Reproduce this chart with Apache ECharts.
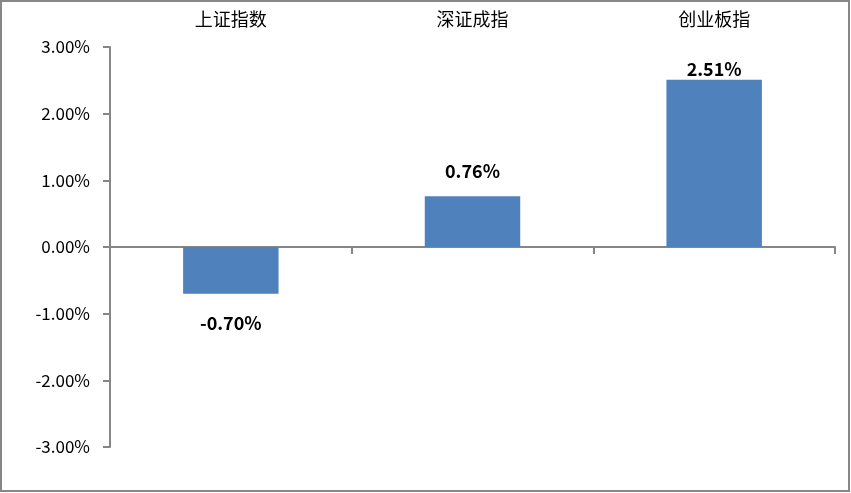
<!DOCTYPE html>
<html><head><meta charset="utf-8">
<script src="https://cdn.jsdelivr.net/npm/echarts@6/dist/echarts.min.js"></script>
<style>html,body{margin:0;padding:0;background:#fff}#c{width:851px;height:493px}</style>
</head><body><div id="c"></div>
<script>
const categories = ['上证指数', '深证成指', '创业板指'];
const values = [-0.70, 0.76, 2.51];
const yMin = -3, yMax = 3, yStep = 1;

const chart = echarts.init(document.getElementById('c'));
const font = '"Noto Sans CJK SC", "Noto Sans", sans-serif';
const labelDistances = [20, 16, 2];
chart.setOption({
  animation: false,
  graphic: [{type: 'rect', shape: {x: 1, y: 1, width: 848, height: 490}, style: {fill: 'none', stroke: '#878787', lineWidth: 2}, silent: true}],
  grid: {left: 110, right: 16, top: 47, bottom: 46},
  xAxis: [{
    type: 'category', data: categories, position: 'bottom',
    axisLine: {onZero: true, lineStyle: {color: '#868686', width: 2}},
    axisTick: {show: true, inside: false, length: 7, alignWithLabel: false, lineStyle: {color: '#868686', width: 2}},
    axisLabel: {show: false}, splitLine: {show: false}
  }, {
    type: 'category', data: categories, position: 'top',
    axisLine: {show: false}, axisTick: {show: false},
    axisLabel: {show: true, margin: 19, color: '#000', fontSize: 18, fontFamily: font}
  }],
  yAxis: {
    type: 'value', min: yMin, max: yMax, interval: yStep,
    axisLine: {show: true, lineStyle: {color: '#868686', width: 2}},
    axisTick: {show: true, length: 7, lineStyle: {color: '#868686', width: 2}},
    splitLine: {show: false},
    axisLabel: {margin: 20, color: '#000', fontSize: 17, fontFamily: font,
      formatter: v => v.toFixed(2) + '%'}
  },
  series: [{
    type: 'bar', barWidth: '39.5%', xAxisIndex: 0,
    itemStyle: {color: '#4F81BD'},
    label: {show: true, fontWeight: 'bold', fontSize: 18, color: '#000', fontFamily: font,
      formatter: p => p.value.toFixed(2) + '%'},
    data: values.map((v, i) => ({value: v, label: {position: v < 0 ? 'bottom' : 'top', distance: labelDistances[i]}}))
  }]
});
</script></body></html>
